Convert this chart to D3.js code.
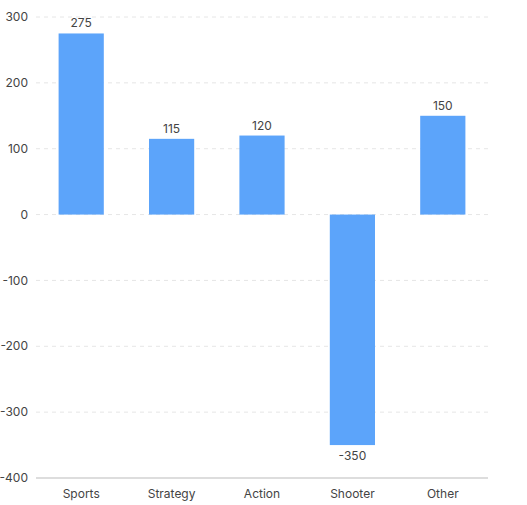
<!DOCTYPE html>
<html><head><meta charset="utf-8">
<script src="https://cdn.jsdelivr.net/npm/d3@7"></script>
<style>body{margin:0;background:#fff}text{font-family:Inter,"Noto Sans",sans-serif}</style>
</head><body><svg id="c" width="527" height="505"></svg>
<script>
const categories=["Sports","Strategy","Action","Shooter","Other"];
const values=[275,115,120,-350,150];
const yTicks=[300,200,100,0,-100,-200,-300,-400];
const svg=d3.select("#c");
const m={l:36,r:39,t:17,b:27};
const W=527,H=505;
const x=d3.scaleBand().domain(categories).range([m.l,W-m.r]).paddingInner(0.5).paddingOuter(0.25);
const y=d3.scaleLinear().domain([-400,300]).range([H-m.b,m.t]);
svg.append("g").selectAll("line").data(yTicks.filter(d=>d!==-400)).join("line")
 .attr("x1",m.l).attr("x2",W-m.r).attr("y1",d=>y(d)).attr("y2",d=>y(d))
 .attr("stroke","#e6e6e6").attr("stroke-dasharray","4,4");
svg.append("g").selectAll("text").data(yTicks).join("text")
 .attr("x",28).attr("y",d=>y(d)).attr("dy","0.35em").attr("text-anchor","end")
 .attr("font-size",12).attr("fill","#444").text(d=>d);
svg.append("line").attr("x1",m.l).attr("x2",W-m.r).attr("y1",y(-400)).attr("y2",y(-400)).attr("stroke","#bbb");
svg.append("g").selectAll("text").data(categories).join("text")
 .attr("x",d=>x(d)+x.bandwidth()/2).attr("y",y(-400)+20).attr("text-anchor","middle")
 .attr("font-size",12).attr("fill","#444").text(d=>d);
svg.append("g").selectAll("rect").data(values).join("rect")
 .attr("x",(d,i)=>x(categories[i])).attr("width",x.bandwidth())
 .attr("y",d=>y(Math.max(0,d))).attr("height",d=>Math.abs(y(d)-y(0)))
 .attr("fill","#5ca4fa");
svg.append("g").selectAll("text").data(values).join("text")
 .attr("x",(d,i)=>x(categories[i])+x.bandwidth()/2)
 .attr("y",d=>d>=0?y(d)-6:y(d)+15).attr("text-anchor","middle")
 .attr("font-size",12).attr("fill","#444").text(d=>d);
</script></body></html>
